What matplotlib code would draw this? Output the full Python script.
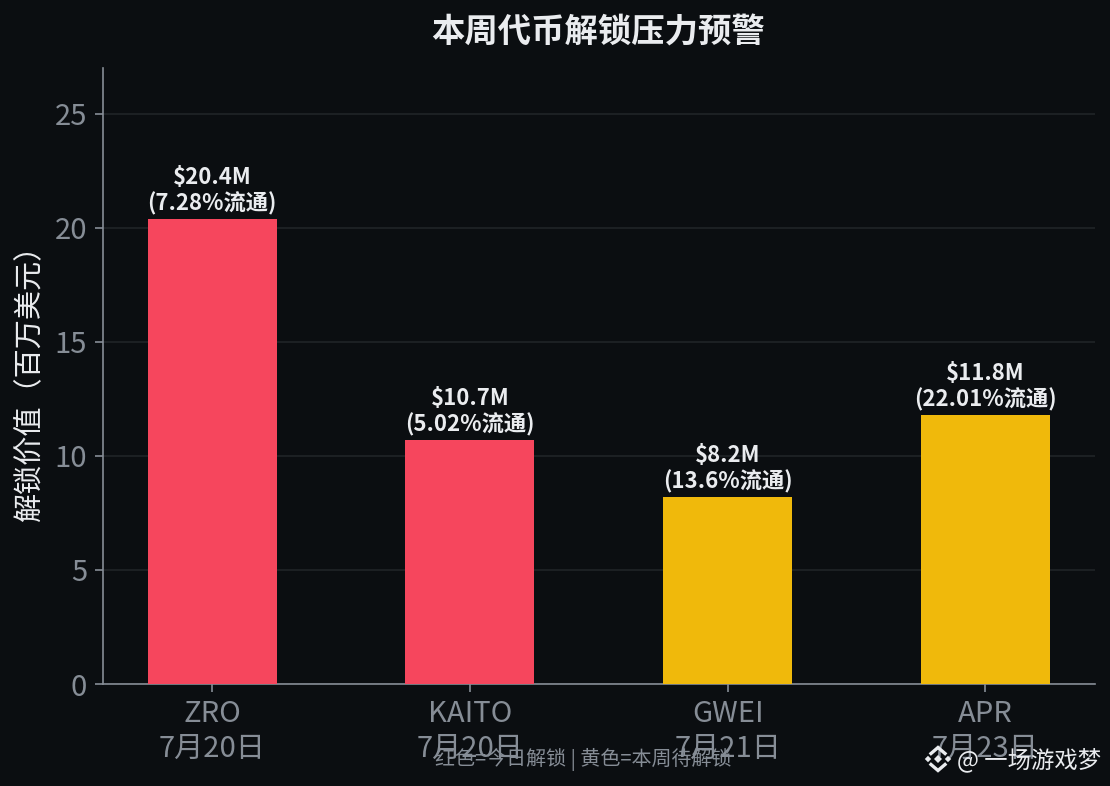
import matplotlib
matplotlib.use("Agg")
import matplotlib.pyplot as plt
from matplotlib.patches import Polygon
from matplotlib.lines import Line2D
import numpy as np

plt.rcParams['font.family'] = ['Noto Sans CJK SC', 'DejaVu Sans']
plt.rcParams['axes.unicode_minus'] = False

tokens = ["ZRO", "KAITO", "GWEI", "APR"]
dates = ["7月20日", "7月20日", "7月21日", "7月23日"]
values = [20.4, 10.7, 8.2, 11.8]
percents = ["7.28%", "5.02%", "13.6%", "22.01%"]
colors = ["#F6465D", "#F6465D", "#F0B90B", "#F0B90B"]
yticks = [0, 5, 10, 15, 20, 25]

bg = "#0B0E11"
W, H = 1110, 786

fig = plt.figure(figsize=(11.10, 7.86), dpi=100, facecolor=bg)
ax = fig.add_axes([102.5/W, 1-684/H, (1095-102.5)/W, (684-68)/H], facecolor=bg)

x = np.arange(len(tokens))
ax.bar(x, values, width=0.5, color=colors, zorder=3)
ax.set_xlim(-0.425, 3.425)
ax.set_ylim(0, 27)
ax.set_yticks(yticks)
ax.set_xticks(x)
ax.set_xticklabels([t + "\n" + d for t, d in zip(tokens, dates)])
ax.tick_params(axis='both', colors="#868D96", labelsize=21, length=6, width=1.2, pad=5)
ax.grid(axis='y', color="#2E3236", alpha=0.5, linewidth=1.5, zorder=4)
ax.spines['top'].set_visible(False)
ax.spines['right'].set_visible(False)
ax.spines['left'].set_color("#868D96")
ax.spines['bottom'].set_color("#868D96")
ax.spines['left'].set_linewidth(1.2)
ax.spines['bottom'].set_linewidth(1.2)
ax.set_ylabel("解锁价值（百万美元）", color="#EAECEF", fontsize=21, labelpad=7)

for i, v in enumerate(values):
    ax.text(i, v + 0.16, "$%.1fM\n(%s流通)" % (v, percents[i]), color="#EAECEF", fontsize=16,
            fontweight='bold', ha='center', va='bottom', linespacing=1.15, zorder=5)

fig.text(598.5/W, 1-33/H, "本周代币解锁压力预警", color="#EAECEF", fontsize=24,
         fontweight='bold', ha='center', va='center')
fig.text(583.5/W, 1-759/H, "红色=今日解锁 | 黄色=本周待解锁", color="#868D96", fontsize=14.4,
         ha='center', va='center')

# watermark
fig.text(1101/W, 1-760/H, "@ 一场游戏梦", color="#EAECEF", fontsize=16.8,
         ha='right', va='center')


def px(pts, cx=938, cy=759):
    return [((cx+a)/W, 1-(cy+b)/H) for a, b in pts]


# binance style logo, 4 small diamonds and 2 chevrons
for dx, dy, r in [(0, 0, 4), (-10, 0, 3.2), (10, 0, 3.2)]:
    fig.add_artist(Polygon(px([(dx-r, dy), (dx, dy-r), (dx+r, dy), (dx, dy+r)]),
                           closed=True, transform=fig.transFigure, color="#EAECEF", lw=0))
for s in [-1, 1]:
    pts = px([(-7, s*5.5), (0, s*11.5), (7, s*5.5)])
    fig.add_artist(Line2D([p[0] for p in pts], [p[1] for p in pts], transform=fig.transFigure,
                          color="#EAECEF", lw=2.4, solid_joinstyle='miter'))

fig.savefig("out.png", dpi=100, facecolor=bg)
